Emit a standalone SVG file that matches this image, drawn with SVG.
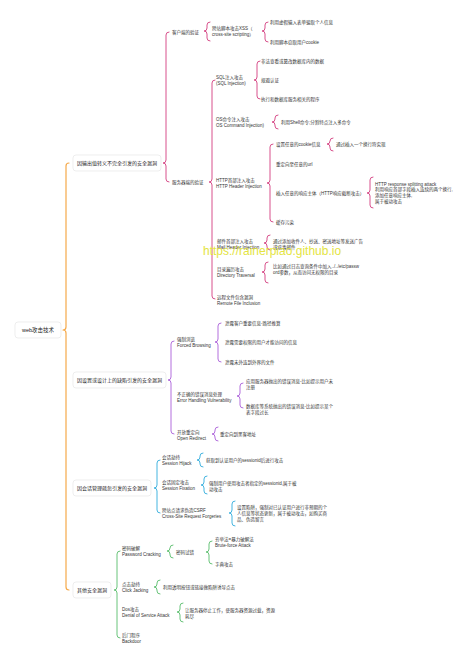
<svg xmlns="http://www.w3.org/2000/svg" width="474" height="662" viewBox="0 0 474 662">
<style>
.t{font-family:"Liberation Sans","Noto Sans CJK SC",sans-serif;font-size:4.5px;fill:#333;dominant-baseline:central}
.b{font-size:5px;fill:#222}
.r{font-size:5.5px;fill:#222}
.box{fill:#fff;stroke:#e2e2e2;stroke-width:.6}
.c{fill:none;stroke-width:1;stroke-linecap:round;stroke-linejoin:round}
.o{stroke:#F5A94A;stroke-width:1.2}.p{stroke:#D8518C}.v{stroke:#B36FDD}.u{stroke:#45B5E0}.g{stroke:#69C47A}
.wm{font-family:"Liberation Sans",sans-serif;font-size:12px;fill:#e2e22c;opacity:.9}
</style>
<rect width="474" height="662" fill="#fff"/>
<g id="connectors">
<path class="c o" d="M69,163 Q66,163 66,166 L66,327 Q66,330 63,330 Q66,330 66,333 L66,587 Q66,590 69,590"/>
<path class="c p" d="M169,32 Q166,32 166,35 L166,160 Q166,163 163,163 Q166,163 166,166 L166,179 Q166,182 169,182"/>
<path class="c p" d="M210,22 Q207,22 207,25 L207,28 Q207,31 204,31 Q207,31 207,34 L207,38 Q207,41 210,41"/>
<path class="c p" d="M268,22 Q265,22 265,25 L265,28 Q265,31 262,31 Q265,31 265,34 L265,39 Q265,42 268,42"/>
<path class="c p" d="M215,80 Q212,80 212,83 L212,179 Q212,182 209,182 Q212,182 212,185 L212,296 Q212,299 215,299"/>
<path class="c p" d="M260,61 Q257,61 257,64 L257,77 Q257,80 254,80 Q257,80 257,83 L257,96 Q257,99 260,99"/>
<path class="c p" d="M278,115 Q275,115 275,118 L275,119 Q275,122 272,122 Q275,122 275,125 L275,126 Q275,129 278,129"/>
<path class="c p" d="M273,144 Q270,144 270,147 L270,180 Q270,183 267,183 Q270,183 270,186 L270,219 Q270,222 273,222"/>
<path class="c p" d="M333,138 Q330,138 330,141 Q330,144 327,144 Q330,144 330,147 L330,148 Q330,151 333,151"/>
<path class="c p" d="M373,177 Q370,177 370,180 L370,190 Q370,193 367,193 Q370,193 370,196 L370,205 Q370,208 373,208"/>
<path class="c p" d="M270,235 Q267,235 267,238 L267,240 Q267,243 264,243 Q267,243 267,246 L267,247 Q267,250 270,250"/>
<path class="c p" d="M268,262 Q265,262 265,265 L265,269 Q265,272 262,272 Q265,272 265,275 L265,280 Q265,283 268,283"/>
<path class="c v" d="M174,341 Q171,341 171,344 L171,377 Q171,380 168,380 Q171,380 171,383 L171,431 Q171,434 174,434"/>
<path class="c v" d="M221,323 Q218,323 218,326 L218,339 Q218,342 215,342 Q218,342 218,345 L218,359 Q218,362 221,362"/>
<path class="c v" d="M243,383 Q240,383 240,386 L240,393 Q240,396 237,396 Q240,396 240,399 L240,405 Q240,408 243,408"/>
<path class="c v" d="M218,427 Q215,427 215,430 L215,431 Q215,434 212,434 Q215,434 215,437 L215,438 Q215,441 218,441"/>
<path class="c u" d="M160,460 Q157,460 157,463 L157,485 Q157,488 154,488 Q157,488 157,491 L157,510 Q157,513 160,513"/>
<path class="c u" d="M203,453 Q200,453 200,456 L200,457 Q200,460 197,460 Q200,460 200,463 L200,464 Q200,467 203,467"/>
<path class="c u" d="M207,476 Q204,476 204,479 L204,482 Q204,485 201,485 Q204,485 204,488 L204,491 Q204,494 207,494"/>
<path class="c u" d="M235,501 Q232,501 232,504 L232,510 Q232,513 229,513 Q232,513 232,516 L232,523 Q232,526 235,526"/>
<path class="c g" d="M120,551 Q117,551 117,554 L117,587 Q117,590 114,590 Q117,590 117,593 L117,635 Q117,638 120,638"/>
<path class="c g" d="M173,545 Q170,545 170,548 Q170,551 167,551 Q170,551 170,554 L170,555 Q170,558 173,558"/>
<path class="c g" d="M212,541 Q209,541 209,544 L209,549 Q209,552 206,552 Q209,552 209,555 L209,561 Q209,564 212,564"/>
<path class="c g" d="M160,580 Q157,580 157,583 L157,584 Q157,587 154,587 Q157,587 157,590 L157,591 Q157,594 160,594"/>
<path class="c g" d="M183,603 Q180,603 180,606 L180,609 Q180,612 177,612 Q180,612 180,615 L180,619 Q180,622 183,622"/>
</g>
<g id="root"><rect class="box" x="15" y="322" width="46" height="16" rx="3"/><text class="t r" x="38" y="330" text-anchor="middle">web攻击技术</text></g>
<g id="b1"><rect class="box" x="73" y="155" width="88" height="16" rx="3"/><text class="t b" x="77" y="163">因输出值转义不完全引发的安全漏洞</text></g>
<g id="b2"><rect class="box" x="73" y="372" width="93" height="16" rx="3"/><text class="t b" x="77" y="380">因设置或设计上的缺陷引发的安全漏洞</text></g>
<g id="b3"><rect class="box" x="73" y="480" width="78" height="16" rx="3"/><text class="t b" x="77" y="488">因会话管理疏忽引发的安全漏洞</text></g>
<g id="b4"><rect class="box" x="73" y="582" width="38" height="16" rx="3"/><text class="t b" x="77" y="590">其他安全漏洞</text></g>
<g id="client"><text class="t" x="172" y="32">客户端的验证</text></g>
<g id="xss"><text class="t" x="212" y="28">跨站脚本攻击XSS（</text><text class="t" x="212" y="34">cross-site scripting）</text></g>
<g id="xss1"><text class="t" x="270" y="22">利用虚假输入表单骗取个人信息</text></g>
<g id="xss2"><text class="t" x="270" y="42">利用脚本窃取用户cookie</text></g>
<g id="server"><text class="t" x="172" y="182">服务器端的验证</text></g>
<g id="sql"><text class="t" x="216" y="77">SQL注入攻击</text><text class="t" x="216" y="83">(SQL Injection)</text></g>
<g id="sql1"><text class="t" x="261" y="61">非法查看或篡改数据库内的数据</text></g>
<g id="sql2"><text class="t" x="261" y="80">规避认证</text></g>
<g id="sql3"><text class="t" x="261" y="99">执行和数据库服务相关的程序</text></g>
<g id="os"><text class="t" x="216" y="119">OS命令注入攻击</text><text class="t" x="216" y="125">OS Command Injection)</text></g>
<g id="os1"><text class="t" x="281" y="122">利用Shell命令;分割特点注入多命令</text></g>
<g id="http"><text class="t" x="216" y="180">HTTP首部注入攻击</text><text class="t" x="216" y="186">HTTP Header Injection</text></g>
<g id="http1"><text class="t" x="276" y="144">设置任意的cookie信息</text></g>
<g id="http1a"><text class="t" x="336" y="144">通过插入一个换行符实现</text></g>
<g id="http2"><text class="t" x="276" y="164">重定向至任意的url</text></g>
<g id="http3"><text class="t" x="276" y="193">插入任意的响应主体（HTTP响应截断攻击）</text></g>
<g id="http3a"><text class="t" x="375" y="184">HTTP response splitting attack</text><text class="t" x="375" y="189.7">利用响应首部字段插入连续的两个换行,</text><text class="t" x="375" y="195.4">添加任意响应主体,</text><text class="t" x="375" y="201.1">属于被动攻击</text></g>
<g id="http4"><text class="t" x="276" y="222">缓存污染</text></g>
<g id="mail"><text class="t" x="217" y="241">邮件首部注入攻击</text><text class="t" x="217" y="247">Mail Header Injection</text></g>
<g id="mail1"><text class="t" x="273" y="241">通过添加收件人、抄送、密送地址等发送广告</text><text class="t" x="273" y="247">或病毒邮件</text></g>
<g id="dir"><text class="t" x="217" y="269">目录遍历攻击</text><text class="t" x="217" y="275">Directory Traversal</text></g>
<g id="dir1"><text class="t" x="273" y="266">比如通过日志查询条件中加入../../etc/passw</text><text class="t" x="273" y="272">ord参数，从而访问无权限的目录</text></g>
<g id="rfi"><text class="t" x="217" y="297">远程文件包含漏洞</text><text class="t" x="217" y="303">Remote File Inclusion</text></g>
<g id="forced"><text class="t" x="177" y="339">强制浏览</text><text class="t" x="177" y="345">Forced Browsing</text></g>
<g id="forced1"><text class="t" x="225" y="323">泄露客户重要信息-路径推算</text></g>
<g id="forced2"><text class="t" x="225" y="342">泄露需要权限的用户才能访问的信息</text></g>
<g id="forced3"><text class="t" x="225" y="362">泄露未外连到外界的文件</text></g>
<g id="err"><text class="t" x="177" y="394">不正确的错误消息处理</text><text class="t" x="177" y="400">Error Handling Vulnerability</text></g>
<g id="err1"><text class="t" x="246" y="381">应用服务器抛出的错误消息-比如提示用户未</text><text class="t" x="246" y="387">注册</text></g>
<g id="err2"><text class="t" x="246" y="406">数据库等系统抛出的错误消息-比如提示某个</text><text class="t" x="246" y="412">表字段过长</text></g>
<g id="redir"><text class="t" x="177" y="432">开放重定向</text><text class="t" x="177" y="438">Open Redirect</text></g>
<g id="redir1"><text class="t" x="220" y="434">重定向到黑客地址</text></g>
<g id="hijack"><text class="t" x="162" y="457">会话劫持</text><text class="t" x="162" y="463">Session Hijack</text></g>
<g id="hijack1"><text class="t" x="206" y="460">获取到认证用户的sessionid后进行攻击</text></g>
<g id="fix"><text class="t" x="162" y="482">会话固定攻击</text><text class="t" x="162" y="488">Session Fixation</text></g>
<g id="fix1"><text class="t" x="209" y="483">强制用户使用攻击者指定的sessionid,属于被</text><text class="t" x="209" y="489">动攻击</text></g>
<g id="csrf"><text class="t" x="162" y="510">跨站点请求伪造CSRF</text><text class="t" x="162" y="516">Cross-Site Request Forgeries</text></g>
<g id="csrf1"><text class="t" x="237" y="507">设置陷阱，强制对已认证用户进行非预期的个</text><text class="t" x="237" y="513">人信息等状态更新，属于被动攻击，如购买商</text><text class="t" x="237" y="519">品、伪造留言</text></g>
<g id="pwd"><text class="t" x="122" y="548">密码破解</text><text class="t" x="122" y="554">Password Cracking</text></g>
<g id="pwd1"><text class="t" x="176" y="552">密码试错</text></g>
<g id="pwd1a"><text class="t" x="215" y="539">穷举法=暴力破解法</text><text class="t" x="215" y="545">Brute-force Attack</text></g>
<g id="pwd1b"><text class="t" x="215" y="564">字典攻击</text></g>
<g id="click"><text class="t" x="122" y="584">点击劫持</text><text class="t" x="122" y="590">Click Jacking</text></g>
<g id="click1"><text class="t" x="163" y="587">利用透明按钮或链接做陷阱诱导点击</text></g>
<g id="dos"><text class="t" x="122" y="609">Dos攻击</text><text class="t" x="122" y="615">Denial of Service Attack</text></g>
<g id="dos1"><text class="t" x="185" y="610">让服务器停止工作，使服务器资源过载，资源</text><text class="t" x="185" y="616">耗尽</text></g>
<g id="backdoor"><text class="t" x="122" y="635">后门程序</text><text class="t" x="122" y="641">Backdoor</text></g>
<text class="wm" x="203" y="255">https://rainerpiao.github.io</text>
</svg>
